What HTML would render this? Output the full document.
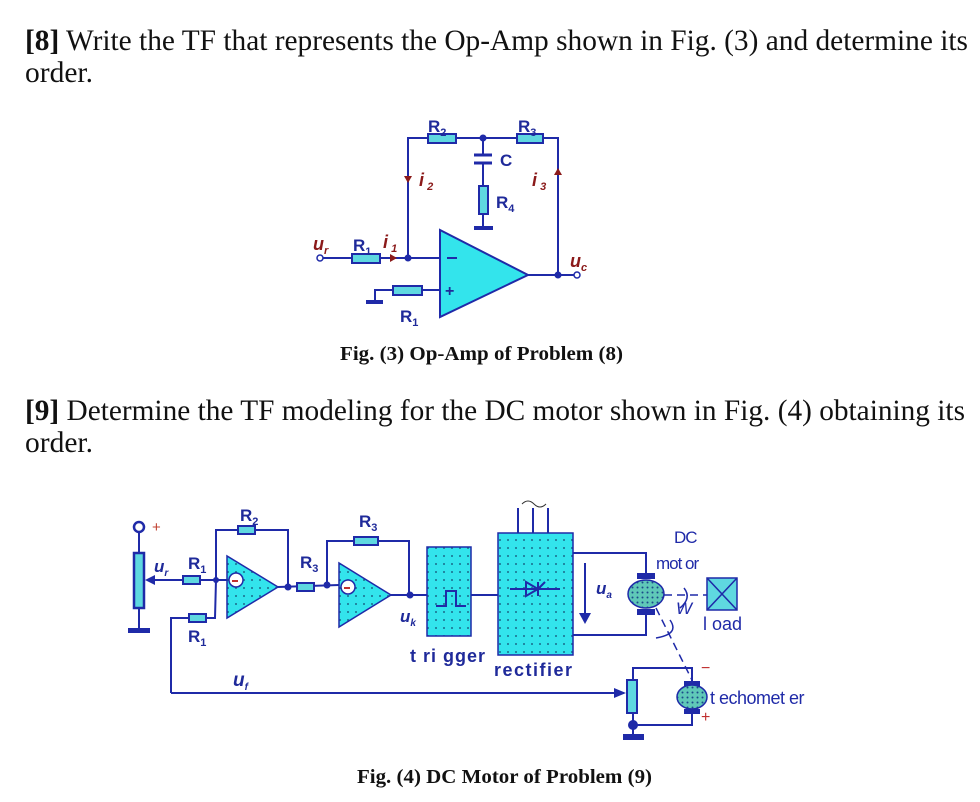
<!DOCTYPE html>
<html><head><meta charset="utf-8"><style>
html,body{margin:0;padding:0;background:#fff;width:980px;height:802px;overflow:hidden}
svg{display:block}
.t{font-family:"Liberation Serif",serif;fill:#111}
.l{font-family:"Liberation Sans",sans-serif;font-weight:bold;fill:#1f2a9a}
.w{stroke:#1f2aa8;stroke-width:2;fill:none}
.r{fill:#5fd8e0;stroke:#1f2aa8;stroke-width:2}
.red{fill:#8b1a1a;font-family:"Liberation Sans",sans-serif;font-weight:bold;font-style:italic}
</style></head><body>
<svg width="980" height="802" viewBox="0 0 980 802" xmlns="http://www.w3.org/2000/svg">
<defs>
<pattern id="dots" width="8" height="8" patternUnits="userSpaceOnUse">
<rect width="8" height="8" fill="#33e4ec"/><circle cx="4" cy="4" r="1" fill="#1a6a8a"/></pattern>
<pattern id="dots2" width="5" height="5" patternUnits="userSpaceOnUse">
<rect width="5" height="5" fill="#5fc8b8"/><circle cx="2.5" cy="2.5" r="1" fill="#1a4a8a"/></pattern>
</defs>
<text class="t" x="25" y="50" font-size="30" textLength="943" lengthAdjust="spacingAndGlyphs"><tspan font-weight="bold">[8]</tspan> Write the TF that represents the Op-Amp shown in Fig. (3) and determine its</text>
<text class="t" x="25" y="82" font-size="30" textLength="68" lengthAdjust="spacingAndGlyphs">order.</text>
<text class="t" x="340" y="360" font-size="20" font-weight="bold" textLength="283" lengthAdjust="spacingAndGlyphs">Fig. (3) Op-Amp of Problem (8)</text>
<text class="t" x="25" y="420" font-size="30" textLength="940" lengthAdjust="spacingAndGlyphs"><tspan font-weight="bold">[9]</tspan> Determine the TF modeling for the DC motor shown in Fig. (4) obtaining its</text>
<text class="t" x="25" y="452" font-size="30" textLength="68" lengthAdjust="spacingAndGlyphs">order.</text>
<text class="t" x="357" y="783" font-size="20" font-weight="bold" textLength="295" lengthAdjust="spacingAndGlyphs">Fig. (4) DC Motor of Problem (9)</text>

<g>
<polyline class="w" points="408,258 408,138 558,138 558,275"/>
<line class="w" x1="483" y1="138" x2="483" y2="155"/>
<line x1="474" y1="155" x2="492" y2="155" stroke="#1f2aa8" stroke-width="3"/>
<line x1="474" y1="163" x2="492" y2="163" stroke="#1f2aa8" stroke-width="3"/>
<line class="w" x1="483" y1="163" x2="483" y2="228"/>
<rect x="474" y="226" width="19" height="4" fill="#1f2aa8"/>
<rect class="r" x="428" y="134" width="28" height="9"/>
<rect class="r" x="517" y="134" width="26" height="9"/>
<rect class="r" x="479" y="186" width="9" height="28"/>
<line class="w" x1="322" y1="258" x2="440" y2="258"/>
<circle cx="320" cy="258" r="3" fill="#fff" stroke="#1f2aa8" stroke-width="1.5"/>
<rect class="r" x="352" y="254" width="28" height="9"/>
<polyline class="w" points="375,302 375,290 440,290"/>
<rect x="366" y="300" width="17" height="4" fill="#1f2aa8"/>
<rect class="r" x="393" y="286" width="29" height="9"/>
<polygon points="440,230 440,317 528,275" fill="#33e4ec" stroke="#1f2aa8" stroke-width="2"/>
<line x1="447" y1="258" x2="457" y2="258" stroke="#1f2aa8" stroke-width="2"/>
<text class="l" x="445" y="296" font-size="16">+</text>
<line class="w" x1="528" y1="275" x2="574" y2="275"/>
<circle cx="577" cy="275" r="3" fill="#fff" stroke="#1f2aa8" stroke-width="1.5"/>
<circle cx="408" cy="258" r="3.5" fill="#1f2aa8"/>
<circle cx="483" cy="138" r="3.5" fill="#1f2aa8"/>
<circle cx="558" cy="275" r="3.5" fill="#1f2aa8"/>
<polygon points="390,254 397,258 390,262" fill="#8b1a1a"/>
<polygon points="404,176 408,183 412,176" fill="#8b1a1a"/>
<polygon points="554,175 558,168 562,175" fill="#8b1a1a"/>
<text class="l" x="428" y="132" font-size="17">R<tspan font-size="11" dy="4">2</tspan></text>
<text class="l" x="518" y="132" font-size="17">R<tspan font-size="11" dy="4">3</tspan></text>
<text class="l" x="500" y="166" font-size="17">C</text>
<text class="l" x="496" y="208" font-size="17">R<tspan font-size="11" dy="4">4</tspan></text>
<text class="l" x="353" y="251" font-size="17">R<tspan font-size="11" dy="4">1</tspan></text>
<text class="l" x="400" y="322" font-size="17">R<tspan font-size="11" dy="4">1</tspan></text>
<text class="red" x="313" y="250" font-size="18">u<tspan font-size="11" dy="4">r</tspan></text>
<text class="red" x="570" y="267" font-size="18">u<tspan font-size="11" dy="4">c</tspan></text>
<text class="red" x="383" y="248" font-size="18">i<tspan font-size="11" dy="4"> 1</tspan></text>
<text class="red" x="419" y="186" font-size="18">i<tspan font-size="11" dy="4"> 2</tspan></text>
<text class="red" x="532" y="186" font-size="18">i<tspan font-size="11" dy="4"> 3</tspan></text>
</g>

<g>
<circle cx="139" cy="527" r="5" fill="#fff" stroke="#1f2aa8" stroke-width="2.5"/>
<line class="w" x1="139" y1="532" x2="139" y2="630" stroke-width="3"/>
<rect x="134" y="553" width="10" height="55" fill="#5fd8e0" stroke="#1f2aa8" stroke-width="2.5"/>
<rect x="128" y="628" width="22" height="5" fill="#1f2aa8"/>
<text x="152" y="532" font-size="15" fill="#c04030" font-family="Liberation Sans,sans-serif">+</text>
<line class="w" x1="150" y1="580" x2="216" y2="580"/>
<polygon points="145,580 155,575 155,585" fill="#1f2aa8"/>
<rect class="r" x="183" y="576" width="17" height="8" stroke-width="1.5"/>
<polyline class="w" points="171,693 171,618 215,618 216,580 227,580"/>
<rect class="r" x="189" y="614" width="17" height="8" stroke-width="1.5"/>
<polyline class="w" points="216,580 216,530 288,530 288,587"/>
<rect class="r" x="238" y="526" width="17" height="8" stroke-width="1.5"/>
<polygon points="227,556 227,618 278,587" fill="url(#dots)" stroke="#1f2aa8" stroke-width="1.5"/>
<circle cx="236" cy="580" r="7" fill="#fff" stroke="#1f2aa8" stroke-width="1.5"/>
<line x1="232" y1="581" x2="238" y2="581" stroke="#c03030" stroke-width="2"/>
<line class="w" x1="278" y1="587" x2="339" y2="585"/>
<rect class="r" x="297" y="583" width="17" height="8" stroke-width="1.5"/>
<polyline class="w" points="327,585 327,541 409,541 409,595"/>
<rect class="r" x="354" y="537" width="24" height="8" stroke-width="1.5"/>
<polygon points="339,563 339,627 391,595" fill="url(#dots)" stroke="#1f2aa8" stroke-width="1.5"/>
<circle cx="348" cy="587" r="7" fill="#fff" stroke="#1f2aa8" stroke-width="1.5"/>
<line x1="344" y1="588" x2="350" y2="588" stroke="#c03030" stroke-width="2"/>
<line class="w" x1="391" y1="595" x2="427" y2="595"/>
<circle cx="216" cy="580" r="3" fill="#1f2aa8"/>
<circle cx="288" cy="587" r="3.5" fill="#1f2aa8"/>
<circle cx="327" cy="585" r="3.5" fill="#1f2aa8"/>
<circle cx="410" cy="595" r="3.5" fill="#1f2aa8"/>
<rect x="427" y="547" width="44" height="89" fill="url(#dots)" stroke="#1f2aa8" stroke-width="1.5"/>
<polyline class="w" points="436,606 446,606 446,591 456,591 456,606 466,606"/>
<line class="w" x1="471" y1="595" x2="498" y2="595"/>
<line class="w" x1="518" y1="508" x2="518" y2="533"/>
<line class="w" x1="533" y1="508" x2="533" y2="533"/>
<line class="w" x1="548" y1="508" x2="548" y2="533"/>
<path d="M522,504 q6,-6 12,0 t12,0" fill="none" stroke="#333" stroke-width="1"/>
<rect x="498" y="533" width="75" height="122" fill="url(#dots)" stroke="#1f2aa8" stroke-width="1.5"/>
<line class="w" x1="510" y1="589" x2="560" y2="589"/>
<polygon points="526,582 526,596 538,589" fill="none" stroke="#1f2aa8" stroke-width="2"/>
<line class="w" x1="538" y1="582" x2="538" y2="596"/>
<line class="w" x1="538" y1="589" x2="545" y2="582"/>
<polyline class="w" points="573,553 646,553 646,576"/>
<polyline class="w" points="573,635 646,635 646,612"/>
<line class="w" x1="585" y1="563" x2="585" y2="622"/>
<polygon points="579,613 585,624 591,613" fill="#1f2aa8"/>
<text class="l" x="596" y="594" font-size="17" font-style="italic">u<tspan font-size="10" dy="4">a</tspan></text>
<rect x="637" y="573" width="18" height="6" fill="#1f2aa8"/>
<rect x="637" y="609" width="18" height="6" fill="#1f2aa8"/>
<ellipse cx="646" cy="594" rx="18" ry="14" fill="url(#dots2)" stroke="#1f2aa8" stroke-width="1.5"/>
<line x1="664" y1="595" x2="707" y2="595" stroke="#1f2aa8" stroke-width="1.5" stroke-dasharray="8,5"/>
<rect x="707" y="578" width="30" height="32" fill="#5fd8e0" stroke="#1f2aa8" stroke-width="1.5"/>
<line x1="707" y1="578" x2="737" y2="610" stroke="#1f2aa8" stroke-width="1.5"/>
<line x1="737" y1="578" x2="707" y2="610" stroke="#1f2aa8" stroke-width="1.5"/>
<path d="M684,588 q8,10 -4,20" fill="none" stroke="#1f2aa8" stroke-width="1.5"/>
<line x1="656" y1="608" x2="692" y2="680" stroke="#1f2aa8" stroke-width="1.5" stroke-dasharray="8,5"/>
<path d="M670,620 q10,14 -14,18" fill="none" stroke="#1f2aa8" stroke-width="1.5"/>
<text x="674" y="543" font-size="17" fill="#1f2aa8" font-family="Liberation Sans,sans-serif" letter-spacing="-1">DC</text>
<text x="656" y="569" font-size="17" fill="#1f2aa8" font-family="Liberation Sans,sans-serif" letter-spacing="-1">mot or</text>
<text x="676" y="614" font-size="17" fill="#1f2aa8" font-family="Liberation Sans,sans-serif" font-style="italic">W</text>
<text x="703" y="630" font-size="18" fill="#1f2aa8" font-family="Liberation Sans,sans-serif">l oad</text>
<line class="w" x1="171" y1="693" x2="624" y2="693"/>
<polygon points="614,688 626,693 614,698" fill="#1f2aa8"/>
<rect x="627" y="680" width="10" height="33" fill="#5fd8e0" stroke="#1f2aa8" stroke-width="2"/>
<polyline class="w" points="633,680 633,668 692,668 692,683"/>
<polyline class="w" points="633,713 633,725 692,725 692,712"/>
<circle cx="633" cy="725" r="5" fill="#1f2aa8"/>
<rect x="623" y="734" width="21" height="6" fill="#1f2aa8"/>
<line class="w" x1="633" y1="728" x2="633" y2="735"/>
<rect x="684" y="681" width="16" height="5" fill="#1f2aa8"/>
<rect x="684" y="709" width="16" height="5" fill="#1f2aa8"/>
<ellipse cx="692" cy="697" rx="15" ry="12" fill="url(#dots2)" stroke="#1f2aa8" stroke-width="1.5"/>
<text x="701" y="673" font-size="16" fill="#c03030" font-family="Liberation Sans,sans-serif">−</text>
<text x="701" y="722" font-size="16" fill="#c03030" font-family="Liberation Sans,sans-serif">+</text>
<text x="710" y="704" font-size="18" fill="#1f2aa8" font-family="Liberation Sans,sans-serif" letter-spacing="-0.5">t echomet er</text>
<text class="l" x="410" y="662" font-size="18" letter-spacing="1">t ri gger</text>
<text class="l" x="494" y="676" font-size="18" letter-spacing="1.5">rectifier</text>
<text class="l" x="240" y="521" font-size="17">R<tspan font-size="11" dy="4">2</tspan></text>
<text class="l" x="359" y="527" font-size="17">R<tspan font-size="11" dy="4">3</tspan></text>
<text class="l" x="300" y="568" font-size="17">R<tspan font-size="11" dy="4">3</tspan></text>
<text class="l" x="188" y="569" font-size="17">R<tspan font-size="11" dy="4">1</tspan></text>
<text class="l" x="188" y="642" font-size="17">R<tspan font-size="11" dy="4">1</tspan></text>
<text class="l" x="154" y="572" font-size="17" font-style="italic">u<tspan font-size="10" dy="4">r</tspan></text>
<text class="l" x="400" y="622" font-size="17" font-style="italic">u<tspan font-size="10" dy="4">k</tspan></text>
<text class="l" x="233" y="686" font-size="19" font-style="italic">u<tspan font-size="10" dy="4">f</tspan></text>
</g>
</svg>
</body></html>
